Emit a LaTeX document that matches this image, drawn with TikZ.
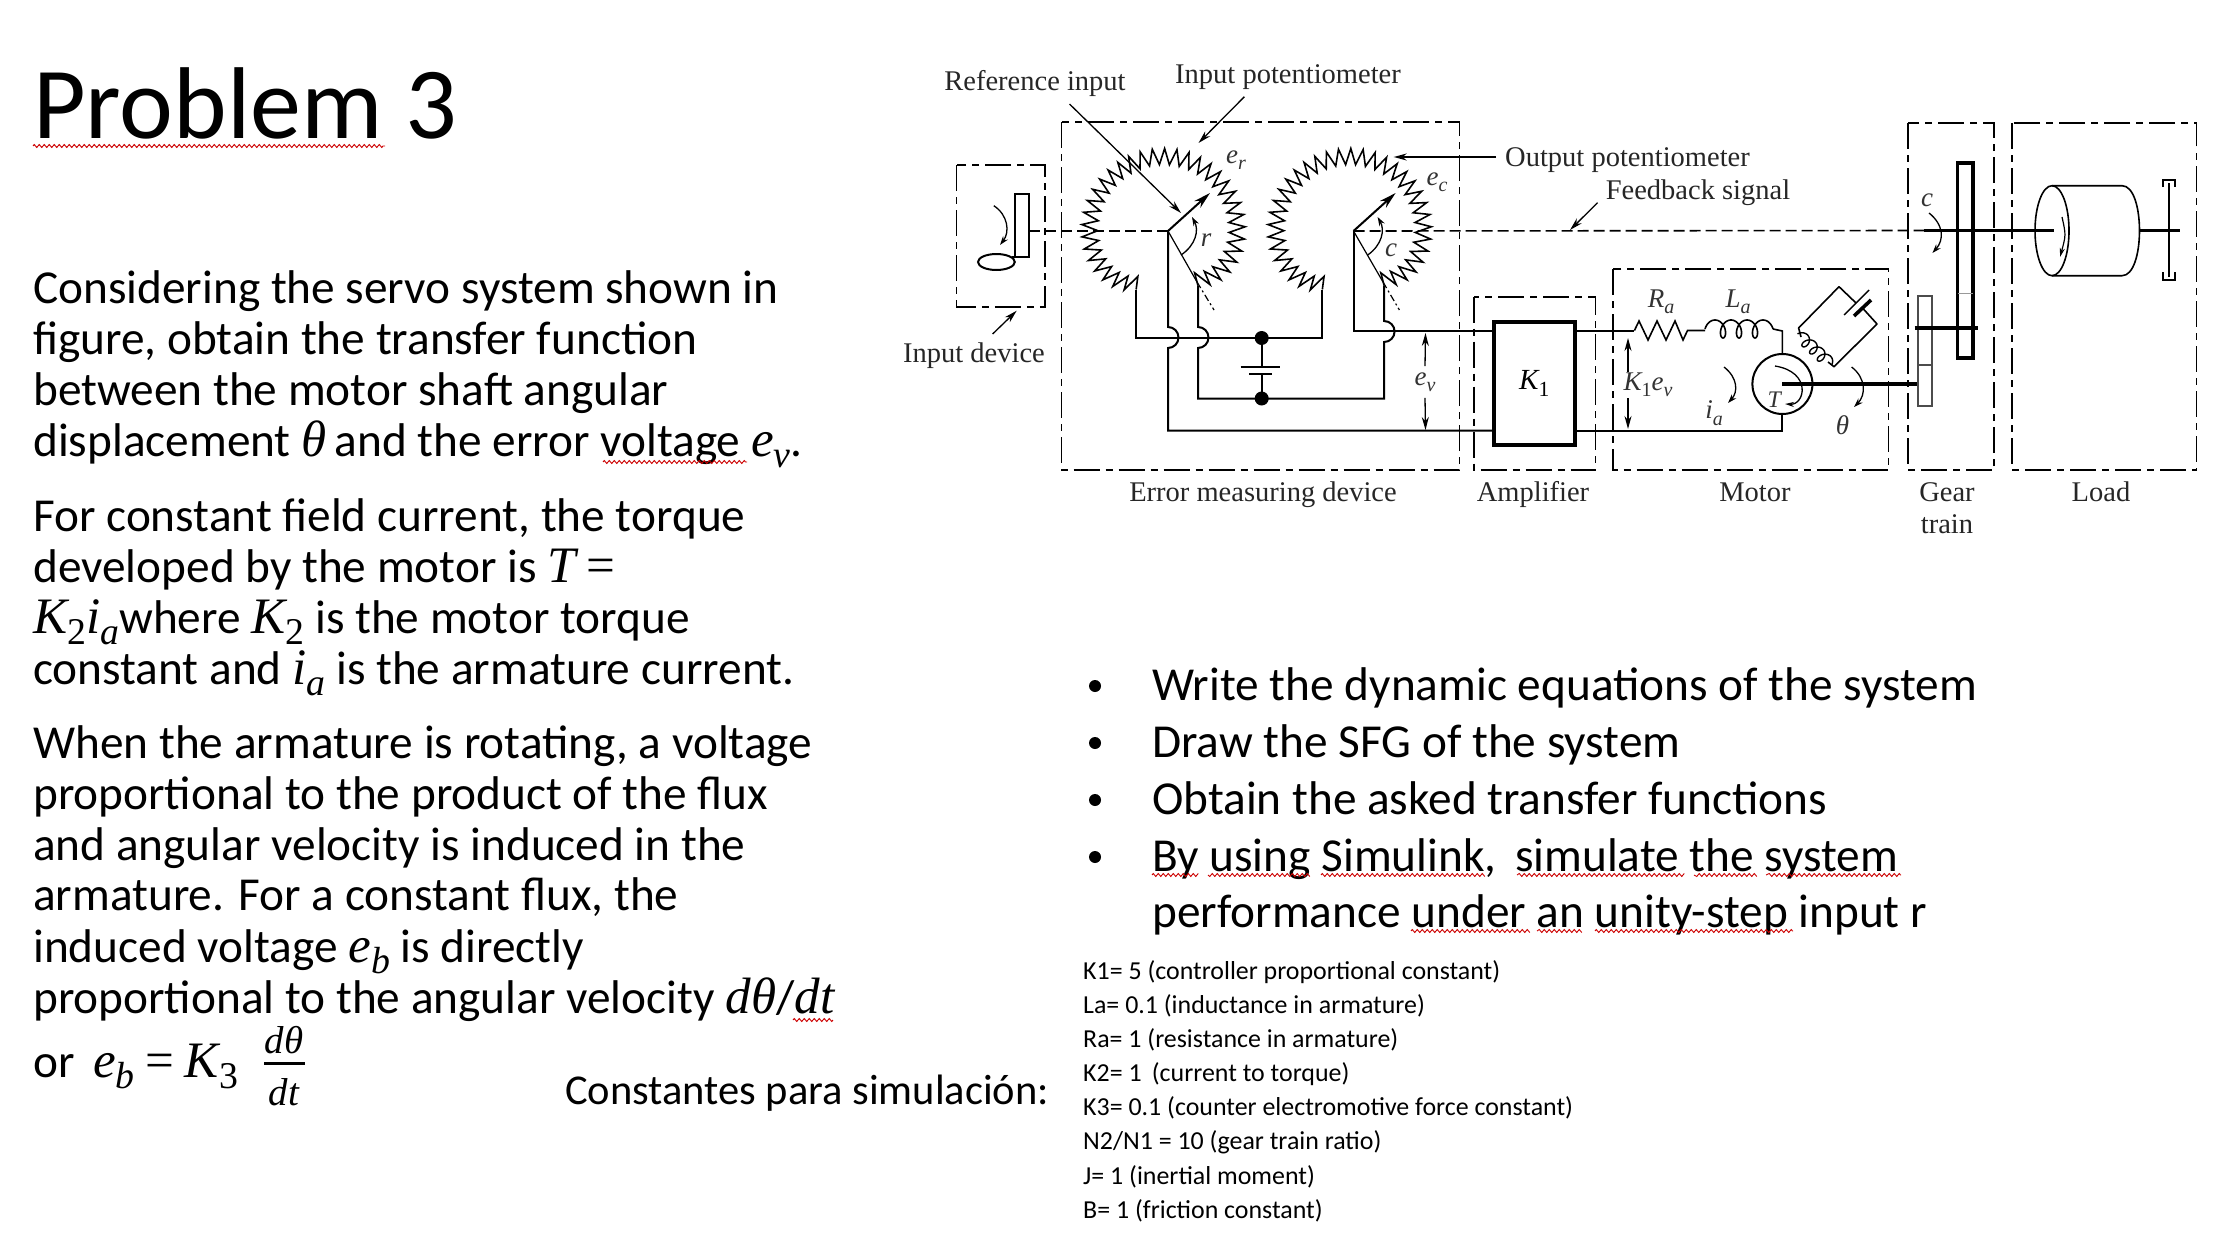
\documentclass[tikz,border=0pt]{standalone}
\usepackage{fontspec}
\setmainfont{Carlito}
\newfontfamily\tnr{Liberation Serif}
\newfontfamily\mfont[Scale=1.08]{Liberation Serif}
\usetikzlibrary{arrows.meta,decorations.pathmorphing}
\newcommand\mi[1]{{\mfont\itshape #1}}
\newcommand\msb[2]{{\mfont\itshape #1}\raisebox{-.24em}{\scalebox{.74}{\mfont\itshape #2}}}
\newcommand\msn[2]{{\mfont\itshape #1}\raisebox{-.24em}{\scalebox{.74}{\mfont\upshape #2}}}
\tikzset{
 txt/.style={anchor=base west,inner sep=0pt,font=\fontsize{47.3}{50}\selectfont},
 small/.style={anchor=base west,inner sep=0pt,font=\fontsize{25.9}{28}\selectfont},
 lab/.style={anchor=base,inner sep=0pt,font=\tnr\fontsize{28.5}{32}\selectfont,text=black!85},
 sym/.style={inner sep=0pt,font=\mfont\itshape\fontsize{25}{30}\selectfont,text=black!80},
 box/.style={line width=1.6pt,dash pattern=on 26pt off 6pt on 7pt off 6pt},
 wire/.style={line width=2pt,line join=miter},
 thin arrow/.style={line width=1.3pt,-{Stealth[length=13pt,width=7pt]}},
 curve arrow/.style={line width=1.3pt,-{Stealth[length=9pt,width=6pt]}},
 zz/.style={line width=1.6pt,line join=miter},
 squig/.style={red!80!black,line width=.9pt,decorate,decoration={zigzag,segment length=5pt,amplitude=1.5pt}},
}
\begin{document}
\begin{tikzpicture}[x=1pt,y=-1pt]
\useasboundingbox (0,0) rectangle (2232,1236);
% ---------- left text
\node[anchor=base west,inner sep=0pt,font=\fontsize{102}{110}\selectfont] (title) at (33,138.5) {Problem 3};
\node[txt] (a1) at (33,303) {Considering the servo system shown in};
\node[txt] (a2) at (33,354.5) {figure, obtain the transfer function};
\node[txt] (a3) at (33,405.5) {between the motor shaft angular};
\node[txt] (a4) at (33,456.5) {displacement \mi{θ}\,and the error voltage \msb{e}{v}.};
\node[txt] (b1) at (33,531) {For constant field current, the torque};
\node[txt] (b2) at (33,582.5) {developed by the motor is \mi{T} {\mfont =}};
\node[txt] (b3) at (33,633.5) {\msn{K}{2}\msb{i}{a}where \msn{K}{2} is the motor torque};
\node[txt] (b4) at (33,684.5) {constant and \msb{i}{a} is the armature current.};
\node[txt] (c1) at (33,758.5) {When the armature is rotating, a voltage};
\node[txt] (c2) at (33,809.5) {proportional to the product of the flux};
\node[txt] (c3) at (33,860.5) {and angular velocity is induced in the};
\node[txt] (c4) at (33,910.5) {armature. For a constant flux, the};
\node[txt] (c5) at (33,962) {induced voltage \msb{e}{b} is directly};
\node[txt] (c6) at (33,1013) {proportional to the angular velocity \mi{dθ}/\mi{dt}};
\node[txt] (c7) at (33,1077) {or\, \msb{e}{b} {\mfont =} \msn{K}{3}};
\node[inner sep=0pt,font=\mfont\itshape\fontsize{36}{42}\selectfont] (fn) at (284,1040) {dθ};
\node[inner sep=0pt,font=\mfont\itshape\fontsize{36}{42}\selectfont] (fd) at (284,1092) {dt};
\draw[line width=3pt] (264,1063) -- (305,1063);
\node[txt,font=\fontsize{42.5}{50}\selectfont] (cst) at (565,1104) {Constantes para simulación:};
% ---------- bullets
\foreach \yy in {700,757,814,871}{\fill (1095,\yy-14) circle (6pt);}
\node[txt] (w1) at (1152,700) {Write the dynamic equations of the system};
\node[txt] (w2) at (1152,757) {Draw the SFG of the system};
\node[txt] (w3) at (1152,814) {Obtain the asked transfer functions};
\node[txt] (w4) at (1152,871) {By using Simulink,\, simulate the system};
\node[txt] (w5) at (1152,927) {performance under an unity-step input r};
% ---------- constants
\node[small] (k1) at (1083,979.5) {K1= 5 (controller proportional constant)};
\node[small] (k2) at (1083,1013.5) {La= 0.1 (inductance in armature)};
\node[small] (k3) at (1083,1047.5) {Ra= 1 (resistance in armature)};
\node[small] (k4) at (1083,1081.5) {K2= 1\, (current to torque)};
\node[small] (k5) at (1083,1115.5) {K3= 0.1 (counter electromotive force constant)};
\node[small] (k6) at (1083,1149.5) {N2/N1 = 10 (gear train ratio)};
\node[small] (k7) at (1083,1184) {J= 1 (inertial moment)};
\node[small] (k8) at (1083,1218) {B= 1 (friction constant)};
% ---------- squiggles
\draw[squig] (33,146) -- (385,146);
\draw[squig] (603,462) -- (747,462);
\draw[squig] (793,1020) -- (833,1020);
\draw[squig] (1152,875) -- (1199,875) (1208,875) -- (1311,875) (1321,875) -- (1485,875) (1517,875) -- (1684,875) (1694,875) -- (1756,875) (1766,875) -- (1901,875);
\draw[squig] (1411,931) -- (1530,931) (1537,931) -- (1583,931) (1595,931) -- (1793,931);
% ---------- dashed boxes
\draw[box] (956.6,165) rectangle (1044.7,306.7);
\draw[box] (1061.5,122) rectangle (1459.5,470);
\draw[box] (1474,296.7) rectangle (1595.6,470);
\draw[box] (1612.7,269) rectangle (1888.5,470);
\draw[box] (1908,123) rectangle (1994,470);
\draw[box] (2012,123) rectangle (2196.5,470);
% ---------- input device
\draw[line width=2pt] (1014.8,258) -- (1014.8,194) -- (1029.4,194) -- (1029.4,257) -- (1012,257);
\draw[line width=2pt] (996.4,262) ellipse (18.4pt and 8pt);
\draw[curve arrow] (993.8,205.7) .. controls (1008,215) and (1010,232) .. (1000,245);
% ---------- potentiometers
\coordinate (p1) at (1168,231);
\coordinate (p2) at (1353.5,231);
\coordinate (p1l) at (1136.1,289.5);
\coordinate (p1r) at (1198,285.6);
\coordinate (p2l) at (1322.3,289.5);
\coordinate (p2r) at (1384.1,285.6);
\draw[zz] plot[samples at={0,...,70}]
 ({1163.5+(74-17*(abs(\x-35)/35)^8+8*cos(180*\x))*cos(58-\x*4.33)},{230.5+(74-17*(abs(\x-35)/35)^8+8*cos(180*\x))*sin(58-\x*4.33)});
\draw[zz] plot[samples at={0,...,70}]
 ({1349.7+(74-17*(abs(\x-35)/35)^8+8*cos(180*\x))*cos(58-\x*4.33)},{230.5+(74-17*(abs(\x-35)/35)^8+8*cos(180*\x))*sin(58-\x*4.33)});
% feedback shaft
\draw[line width=1.6pt,dash pattern=on 11pt off 5pt] (1029.4,231) -- (p1);
\draw[line width=1.6pt,dash pattern=on 11pt off 5pt] (p2) -- (1923.8,230.5);
% wipers
\coordinate (t1) at (1210,193); \coordinate (t2) at (1395.6,193);
\draw[line width=2pt,-{Stealth[length=17pt,width=9pt]}] (p1) -- (t1);
\draw[line width=2pt,-{Stealth[length=17pt,width=9pt]}] (p2) -- (t2);
\draw[line width=1.2pt] (p1) -- (1197,282);
\draw[line width=1.2pt,dash pattern=on 7pt off 3pt on 2pt off 3pt] (1197,282) -- (1214,310);
\draw[line width=1.2pt] (p2) -- (1383,282);
\draw[line width=1.2pt,dash pattern=on 7pt off 3pt on 2pt off 3pt] (1383,282) -- (1399.4,310);
\draw[curve arrow] (1181,255) .. controls (1196,245) and (1199,230) .. (1192,217);
\draw[curve arrow] (1367.7,255) .. controls (1382,245) and (1385,230) .. (1377.6,217);
% ---------- circuit wires
\coordinate (dt) at (1261.7,338); \coordinate (db) at (1261.7,398.5);
\draw[wire] (p1l) -- (1136.1,338) -- (dt) -- (1322.3,338) -- (p2l);
\draw[wire] (p1r) -- (1198,327) arc[start angle=90,end angle=-90,radius=10.5pt] -- (1198,398.5) -- (db) -- (1384.1,398.5) -- (1384.1,342) arc[start angle=-90,end angle=90,radius=10.5pt] -- (p2r);
\draw[wire] (p1) -- (1168,327) arc[start angle=90,end angle=-90,radius=10.5pt] -- (1168,430.7) -- (1493.5,430.7);
\draw[wire] (p2) -- (1353.5,331) -- (1493.5,331);
\fill (dt) circle (7pt); \fill (db) circle (7pt);
\draw[wire] (dt) -- (1261.7,366.7) (1261.7,374) -- (db);
\draw[line width=2pt] (1240.6,366.7) -- (1279.6,366.7) (1249,374) -- (1272,374);
% ev arrows
\node[sym] (ev) at (1425,382) {\msb{e}{v}};
\draw[thin arrow] (ev.north) ++(0,-6) -- (1425.5,333);
\draw[thin arrow] (ev.south) ++(0,6) -- (1425.5,430);
% ---------- amplifier
\node[draw,line width=3.6pt,minimum width=81pt,minimum height=123pt,inner sep=0pt,font=\fontsize{27}{30}\selectfont] (amp) at (1534.3,383.3) {\msn{K}{1}};
% ---------- motor
\node[draw,circle,line width=2pt,minimum size=60pt,inner sep=0pt] (mot) at (1782.4,384) {};
\draw[wire] (1575,330.5) -- (1634.4,330.5);
\draw[zz] (1634.4,330.5) -- (1639,321) -- (1648,340) -- (1657,321) -- (1666,340) -- (1675,321) -- (1683,340) -- (1687.5,330.5) -- (1705,330.5);
\draw[line width=1.6pt] plot[domain=-90:1170,samples=140,smooth] ({1711+(\x+90)/1260*56+6*sin(\x)},{329-9*cos(\x)});
\draw[line width=1.6pt] (1773,329) -- (1782.4,331) -- (mot.north);
\draw[wire] (mot.south) -- (1782.4,430.7) -- (1575,430.7);
\draw[line width=3.4pt] (mot.center) -- (1932.4,384);
\draw[line width=1.3pt,-{Stealth[length=9pt,width=5pt]}] (1775,366) .. controls (1812,372) and (1805,405) .. (1785,404);
% field
\draw[line width=1.6pt,line join=round] (1856,303) -- (1839,286.7) -- (1798.6,328) -- (1801,337);
\draw[line width=1.6pt,line join=round] (1862.5,308) -- (1877,324) -- (1834,366.7) -- (1828,362);
\draw[line width=1.4pt] plot[domain=-90:1170,samples=120,smooth] ({1801+(\x+90)/1260*27+3.5*sin(\x)+6*cos(\x)*.73},{337+(\x+90)/1260*25+3.5*sin(\x)*.9-6*cos(\x)*.68});
\draw[line width=1.4pt] (1844,315) -- (1869,290);
\draw[line width=3.6pt] (1854,316) -- (1871,300);
% K1 ev
\node[sym] (kev) at (1648,385) {\msn{K}{1}\msb{e}{v}};
\draw[thin arrow] (1628,372) -- (1628,338);
\draw[thin arrow] (1628,398) -- (1628,429);
\node[sym] (ra) at (1661,302) {\msb{R}{a}};
\node[sym] (la) at (1738,302) {\msb{L}{a}};
\node[sym] (ia) at (1714,413) {\msb{i}{a}};
\node[sym,font=\mfont\itshape\fontsize{22}{26}\selectfont] (tq) at (1774.3,400) {T};
\node[sym] (th) at (1842.5,425) {θ};
\draw[curve arrow] (1724,367) .. controls (1738,378) and (1738,392) .. (1728,403);
\draw[curve arrow] (1851.6,367) .. controls (1866,378) and (1866,395) .. (1854,407);
% ---------- gears
\draw[line width=1.6pt,draw=black!70,fill=white] (1917.8,295.7) rectangle (1932,406);
\draw[line width=1.6pt,draw=black!70] (1917.8,365) -- (1932,365);
\draw[line width=3.4pt,fill=white] (1957.7,163) rectangle (1972.8,358);
\draw[line width=1pt,draw=black!40] (1957.7,293) -- (1972.8,293);
\draw[line width=3.4pt] (1914.7,328) -- (1978,328);
\draw[line width=3.4pt] (1923.8,230.5) -- (2053.6,230.5);
\node[sym] (cc) at (1927,200) {c};
\draw[curve arrow] (1929,213) .. controls (1944,225) and (1944,240) .. (1932.4,253);
% ---------- load
\draw[line width=1.6pt] (2052,230.7) ellipse (17pt and 45pt);
\draw[line width=1.6pt] (2052,185.7) -- (2122,185.7) .. controls (2145.3,185.7) and (2145.3,275.7) .. (2122,275.7) -- (2052,275.7);
\draw[line width=1.2pt,-{Stealth[length=9pt,width=5pt]}] (2062,217) .. controls (2066,235) .. (2060,257);
\draw[line width=3.4pt] (2139.5,230.7) -- (2180,230.7);
\draw[line width=2.6pt] (2169,183) -- (2169,277);
\draw[line width=1.6pt] (2163,187) -- (2163,180) -- (2175,180) -- (2175,187);
\draw[line width=1.6pt] (2163,272) -- (2163,280) -- (2175,280) -- (2175,272);
% ---------- potentiometer symbols
\node[sym] (r) at (1206,240) {r};
\node[sym] (c) at (1391,250) {c};
\node[sym] (er) at (1236,160) {\msb{e}{r}};
\node[sym] (ec) at (1437,182) {\msb{e}{c}};
% ---------- diagram labels
\node[lab] (refin) at (1035,91) {Reference input};
\node[lab] (inpot) at (1288,84) {Input potentiometer};
\node[lab,anchor=base west] (outpot) at (1505,166) {Output potentiometer};
\node[lab] (fb) at (1698,199) {Feedback signal};
\node[lab] (indev) at (974,362) {Input device};
\node[lab] (err) at (1263,501) {Error measuring device};
\node[lab] (ampl) at (1533,501) {Amplifier};
\node[lab] (moto) at (1755,501) {Motor};
\node[lab] (gear) at (1947,501) {Gear};
\node[lab] (train) at (1947,533.5) {train};
\node[lab] (load) at (2101,501) {Load};
\coordinate (a1t) at (1181,213); \coordinate (a2t) at (1198.5,143); \coordinate (a3t) at (1393.7,157); \coordinate (a4t) at (1570,230); \coordinate (a5t) at (1016.7,310.7);
\coordinate (a3s) at (1496,157);
\draw[thin arrow] (1069.5,104) -- (a1t);
\draw[thin arrow] (1244.4,96.7) -- (a2t);
\draw[thin arrow] (a3s) -- (a3t);
\draw[thin arrow] (1597.6,202.7) -- (a4t);
\draw[thin arrow] (992.6,334) -- (a5t);
\end{tikzpicture}
\end{document}
